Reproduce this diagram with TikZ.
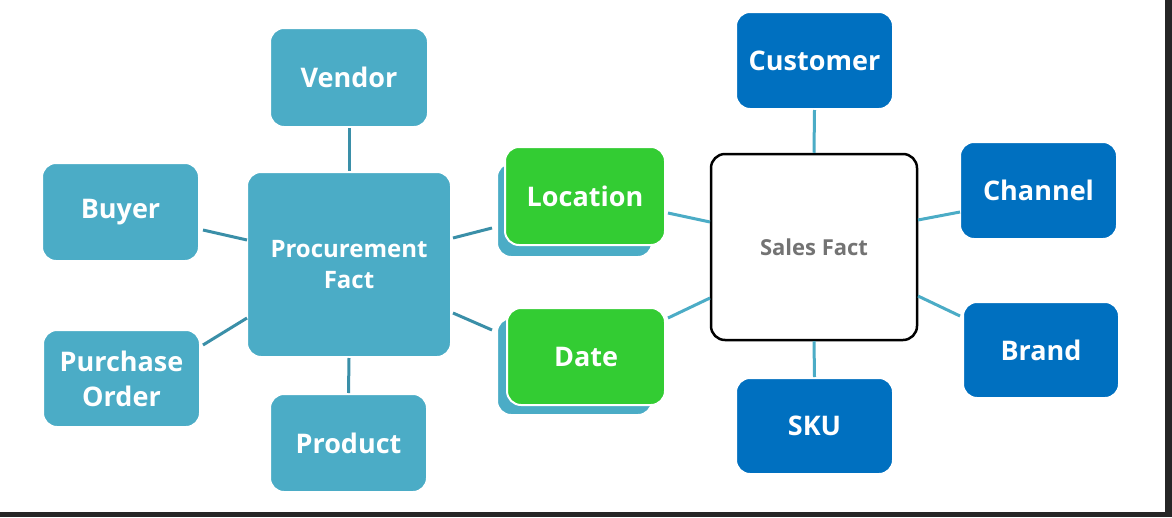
\documentclass[tikz,border=0pt]{standalone}
\usepackage{fontspec}
\setmainfont{Open Sans}
\begin{document}
\begin{tikzpicture}[x=1pt,y=-1pt,
 box/.style={rounded corners=14pt,draw=white,line width=2pt,text=white,font=\bfseries\fontsize{27}{35}\selectfont,align=center,inner sep=0pt},
 teal/.style={box,fill=tealc},
 blu/.style={box,fill=bluec},
 grn/.style={box,fill=greenc},
 ln/.style={line width=3pt,draw=tealc},
 lnd/.style={line width=3pt,draw=teald}]
\definecolor{tealc}{HTML}{4BACC6}
\definecolor{teald}{HTML}{3A8FA8}
\definecolor{bluec}{HTML}{0070C0}
\definecolor{greenc}{HTML}{33CC33}
\fill[white] (0,0) rectangle (1172,517);
\fill[black!85] (1165,0) rectangle (1172,517);
\fill[black!85] (0,512) rectangle (1172,517);
\useasboundingbox (0,0) rectangle (1172,517);
\tikzset{at box/.style args={#1,#2,#3,#4}{minimum width=#2-#1,minimum height=#4-#3,at={(#1/2+#2/2,#3/2+#4/2)}}}
\node[teal,at box={270,428,28,127}] (vendor) {Vendor};
\node[teal,at box={42,199,163,261}] (buyer) {Buyer};
\node[teal,at box={247,451,172,357},font=\bfseries\fontsize{24}{31}\selectfont] (proc) {Procurement\\Fact};
\node[teal,at box={43,200,330,427}] (po) {Purchase\\Order};
\node[teal,at box={270,427,394,492}] (product) {Product};
\node[teal,at box={497,652,163,257}] (locs) {};
\node[grn,at box={505,665,147,245}] (loc) {Location};
\node[teal,at box={497,652,318,415}] (dates) {};
\node[grn,at box={507,665,308,405}] (date) {Date};
\node[box,fill=white,draw=black,line width=2.5pt,text=black!55,font=\bfseries\fontsize{22}{26}\selectfont,at box={711,917,154,340}] (sales) {Sales Fact};
\node[blu,at box={736,893,12,109}] (cust) {Customer};
\node[blu,at box={960,1117,142,239}] (chan) {Channel};
\node[blu,at box={963,1119,302,398}] (brand) {Brand};
\node[blu,at box={736,893,378,474}] (sku) {SKU};
\coordinate (a1) at (203,230); \coordinate (a2) at (247,240);
\coordinate (b1) at (203,345); \coordinate (b2) at (247,318);
\coordinate (c1) at (453,238); \coordinate (c2) at (492,228);
\coordinate (d1) at (453,313); \coordinate (d2) at (492,330);
\coordinate (e1) at (668,213); \coordinate (e2) at (710,222);
\coordinate (f1) at (668,318); \coordinate (f2) at (710,298);
\coordinate (g1) at (918,220); \coordinate (g2) at (960,212);
\coordinate (h1) at (918,296); \coordinate (h2) at (960,316);
\draw[lnd] (vendor.south) -- (proc.north);
\draw[lnd] (product.north) -- (proc.south);
\draw[lnd] (a1) -- (a2);
\draw[lnd] (b1) -- (b2);
\draw[lnd] (c1) -- (c2);
\draw[lnd] (d1) -- (d2);
\draw[ln] (e1) -- (e2);
\draw[ln] (f1) -- (f2);
\draw[ln] (g1) -- (g2);
\draw[ln] (h1) -- (h2);
\draw[ln] (cust.south) -- (sales.north);
\draw[ln] (sku.north) -- (sales.south);
\end{tikzpicture}
\end{document}
